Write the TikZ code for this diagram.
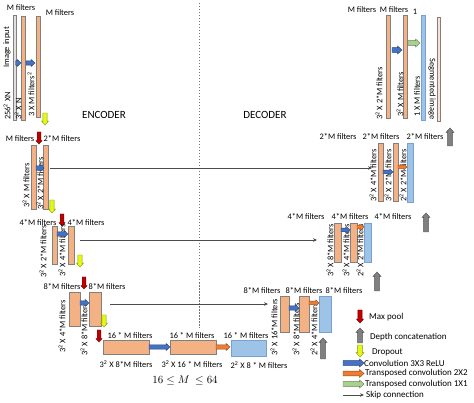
\documentclass[tikz,border=0pt]{standalone}
\usepackage{fontspec}
\setmainfont{Carlito}
\usetikzlibrary{arrows.meta}
\definecolor{barorange}{RGB}{244,177,131}
\definecolor{barblue}{RGB}{157,195,230}
\definecolor{barblueline}{RGB}{120,160,210}
\definecolor{bluearr}{RGB}{68,114,196}
\definecolor{orangearr}{RGB}{237,125,49}
\definecolor{greenarr}{RGB}{169,209,142}
\definecolor{redarr}{RGB}{192,0,0}
\definecolor{grayarr}{RGB}{128,128,128}
\definecolor{yellowarr}{RGB}{225,250,20}
\definecolor{segfill}{RGB}{238,230,222}
\definecolor{segline}{RGB}{150,120,110}
\newcommand{\BAR}[6]{\node[#2, minimum width={(#4-#3)*1pt}, minimum height={(#6-#5)*1pt}] (#1) at ({(#3+#4)/2},{(#5+#6)/2}) {};}
\newcommand{\ARRH}[5]{%
  \filldraw[fill=#1, draw=#1!60!black, line width=0.4pt]
   (#2,{#4-0.3*#5}) -- ({#3-0.55*#5},{#4-0.3*#5}) -- ({#3-0.55*#5},{#4-0.5*#5}) -- (#3,#4)
   -- ({#3-0.55*#5},{#4+0.5*#5}) -- ({#3-0.55*#5},{#4+0.3*#5}) -- (#2,{#4+0.3*#5}) -- cycle;}
\newcommand{\ARRV}[5]{%
  \pgfmathsetmacro\arrhd{0.55*#5*sign(#4-#3)}%
  \filldraw[fill=#1, draw=#1!60!black, line width=0.4pt]
   ({#2-0.3*#5},#3) -- ({#2-0.3*#5},{#4-(\arrhd)}) -- ({#2-0.5*#5},{#4-(\arrhd)}) -- (#2,#4)
   -- ({#2+0.5*#5},{#4-(\arrhd)}) -- ({#2+0.3*#5},{#4-(\arrhd)}) -- ({#2+0.3*#5},#3) -- cycle;}
\tikzset{
  barbase/.style={rectangle, inner sep=0pt, outer sep=0pt, line width=0.6pt},
  obar/.style={barbase, fill=barorange, draw=black!50},
  bbar/.style={barbase, fill=barblue, draw=barblueline},
  gbar/.style={barbase, fill=black!12, draw=black!50},
  segbar/.style={barbase, fill=segfill, draw=segline},
  lbl/.style={font=\fontsize{8.4}{9}\selectfont, inner sep=0pt, text=black},
  rlbl/.style={lbl, rotate=90, anchor=west},
  leg/.style={font=\fontsize{9}{10}\selectfont, inner sep=0pt, text=black, anchor=west},
  head/.style={font=\fontsize{11}{12}\selectfont, inner sep=0pt, text=black},
  skip/.style={draw=black!70, line width=0.5pt, -{Stealth[length=4pt,width=3.5pt]}}
}
\begin{document}
\begin{tikzpicture}[x=1pt,y=-1pt]
\useasboundingbox (0,0) rectangle (474,403);
% divider
\draw[black!55, line width=0.6pt, dash pattern=on 1.5pt off 1.5pt] (199,3) -- (199,328);
\node[head] (enc) at (104,115) {ENCODER};
\node[head] (dec) at (265,115) {DECODER};

% ---------- Encoder level 1
\BAR{in}{gbar}{13}{16}{15}{120}
\BAR{e1a}{obar}{21}{25}{16}{120}
\BAR{e1b}{obar}{36}{40}{16}{117}
\ARRH{bluearr}{15.5}{21}{63}{7}
\ARRH{bluearr}{26}{35}{63}{7}
\ARRV{yellowarr}{45}{113}{125}{7}
\node[lbl] (t11) at (21,8) {M filters};
\node[lbl] (t12) at (60,13) {M filters};
\node[rlbl] (r11) at (7,68) {Image input};
\node[rlbl] (r12) at (7,120) {256\textsuperscript{2} XN};
\node[rlbl] (r13) at (18,120) {3\textsuperscript{2} X N};
\node[rlbl] (r14) at (31,117) {3 X M filters\textsuperscript{2}};

% ---------- Encoder level 2
\ARRV{redarr}{39}{132}{144}{6}
\node[lbl] (t21) at (20,139) {M filters};
\node[lbl] (t22) at (62,139) {2*M filters};
\BAR{e2a}{obar}{31}{36}{145}{209}
\BAR{e2b}{obar}{43}{48}{145}{209}
\node[rlbl] (r21) at (26,208) {3\textsuperscript{2} X M filters};
\node[rlbl] (r22) at (40,210) {3\textsuperscript{2} X 2*M filters};
\ARRH{bluearr}{36}{44}{168}{7}
\ARRV{yellowarr}{52}{200}{213}{7}

% ---------- Encoder level 3
\ARRV{redarr}{62}{214}{226}{6}
\node[lbl] (t31) at (38,223) {4*M filters};
\node[lbl] (t32) at (86,223) {4*M filters};
\BAR{e3a}{obar}{52}{57}{226}{264}
\BAR{e3b}{obar}{68}{74}{226}{264}
\node[rlbl] (r31) at (43,278) {3\textsuperscript{2} X 2*M filters};
\node[rlbl] (r32) at (62,277) {3\textsuperscript{2} X 4*M filters};
\ARRH{bluearr}{57}{68}{234}{7}
\ARRV{yellowarr}{80}{255}{267}{7}

% ---------- Encoder level 4
\ARRV{redarr}{84}{277}{289}{6}
\node[lbl] (t41) at (62,287) {8*M filters};
\node[lbl] (t42) at (107,287) {8*M filters};
\BAR{e4a}{obar}{69}{80}{292}{326}
\BAR{e4b}{obar}{89}{101}{292}{326}
\node[rlbl] (r41) at (62,353) {3\textsuperscript{2} X 4*M filters};
\node[rlbl] (r42) at (84,356) {3\textsuperscript{2} X 8*M filters};
\ARRH{bluearr}{80}{89}{303}{7}
\ARRV{yellowarr}{104}{315}{327}{7}

% ---------- Bottleneck
\ARRV{redarr}{99}{330}{342}{6}
\BAR{b1}{obar}{103}{149}{340}{354}
\BAR{b2}{obar}{170}{216}{340}{354}
\BAR{b3}{bbar}{231}{266}{340}{356}
\ARRH{bluearr}{149}{170}{347}{7}
\ARRH{orangearr}{216}{230}{347}{7}
\node[lbl] (t51) at (130,336) {16 * M filters};
\node[lbl] (t52) at (192,336) {16 * M filters};
\node[lbl] (t53) at (246,336) {16 * M filters};
\node[lbl] (u51) at (126,364) {3\textsuperscript{2} X 8*M filters};
\node[lbl] (u52) at (192,364) {3\textsuperscript{2} X 16 * M filters};
\node[lbl] (u53) at (259,365) {2\textsuperscript{2} X 8 * M filters};
\node[font=\fontsize{11}{12}\selectfont, inner sep=0pt] (mrange) at (185,381) {$16 \leq M \ \leq 64$};

% ---------- Decoder level 4
\node[lbl] (d41) at (262,291) {8*M filters};
\node[lbl] (d42) at (304,291) {8*M filters};
\node[lbl] (d43) at (344,291) {8*M filters};
\BAR{d4a}{obar}{280}{289}{296}{332}
\BAR{d4b}{obar}{299}{309}{296}{332}
\BAR{d4c}{bbar}{319}{331}{296}{332}
\node[rlbl] (q41) at (274,356) {3\textsuperscript{2} X 16*M filters};
\node[rlbl] (q42) at (296,356) {3\textsuperscript{2} X 8*M filters};
\node[rlbl] (q43) at (314,356) {2\textsuperscript{2} X 4*M filters};
\ARRH{bluearr}{289}{299}{308}{7}
\ARRH{orangearr}{309}{319}{303}{6}
\ARRV{grayarr}{323}{359}{338}{8}
\ARRV{grayarr}{377}{291}{272}{8}

% ---------- Decoder level 3
\node[lbl] (d31) at (306,217) {4*M filters};
\node[lbl] (d32) at (350,217) {4*M filters};
\node[lbl] (d33) at (393,217) {4*M filters};
\BAR{d3a}{obar}{334}{341}{223}{262}
\BAR{d3b}{obar}{350}{357}{223}{262}
\BAR{d3c}{bbar}{364}{371}{223}{262}
\node[rlbl] (q31) at (330,277) {3\textsuperscript{2} X 8*M filters};
\node[rlbl] (q32) at (346,277) {3\textsuperscript{2} X 4*M filters};
\node[rlbl] (q33) at (360,277) {2\textsuperscript{2} X 2*M filters};
\ARRH{bluearr}{341}{350}{230}{6}
\ARRH{orangearr}{357}{364}{227}{6}
\ARRV{grayarr}{426}{232}{213}{8}

% ---------- Decoder level 2
\node[lbl] (d21) at (338,137) {2*M filters};
\node[lbl] (d22) at (381,137) {2*M filters};
\node[lbl] (d23) at (425,137) {2*M filters};
\BAR{d2a}{obar}{378}{383}{143}{201}
\BAR{d2b}{obar}{393}{398}{143}{201}
\BAR{d2c}{bbar}{407}{413}{143}{202}
\node[rlbl] (q21) at (373,202) {3\textsuperscript{2} X 4*M filters};
\node[rlbl] (q22) at (388,202) {3\textsuperscript{2} X 2*M filters};
\node[rlbl] (q23) at (403,202) {2\textsuperscript{2} X 2*M filters};
\ARRH{bluearr}{383}{393}{172}{6}
\ARRH{orangearr}{398}{407}{167}{6}
\ARRV{grayarr}{450}{146}{128}{8}

% ---------- Decoder level 1
\node[lbl] (d11) at (362,10) {M filters};
\node[lbl] (d12) at (394,10) {M filters};
\node[lbl] (d13) at (415,12) {1};
\BAR{d1a}{obar}{386}{390}{15}{118}
\BAR{d1b}{obar}{403}{407}{15}{118}
\BAR{d1c}{bbar}{421}{425}{15}{120}
\BAR{seg}{segbar}{437}{440}{17}{121}
\node[rlbl] (q11) at (379,120) {3\textsuperscript{2} X 2*M filters};
\node[rlbl] (q12) at (400,117) {3\textsuperscript{2} X M filters};
\node[rlbl] (q13) at (417,117) {1 X M filters};
\node[lbl, rotate=-90, anchor=west] (q14) at (432,58) {Segmented image};
\ARRH{bluearr}{392}{402}{50}{8}
\ARRH{greenarr}{408}{420}{43}{8}

% ---------- Skip connections
\coordinate (s2) at (50,168);
\coordinate (k2) at (372,168);
\coordinate (s3) at (80,240);
\coordinate (k3) at (317,240);
\coordinate (s4) at (110,304);
\coordinate (k4) at (268,304);
\draw[skip] (s2) -- (k2);
\draw[skip] (s3) -- (k3);
\draw[skip] (s4) -- (k4);

% ---------- Legend
\ARRV{redarr}{360}{310}{323}{7}
\node[leg] (l1) at (369,317) {Max pool};
\ARRV{grayarr}{360}{343}{328}{8}
\node[leg] (l2) at (370,337) {Depth concatenation};
\ARRV{yellowarr}{360}{345}{357}{8}
\node[leg] (l3) at (372,352) {Dropout};
\ARRH{bluearr}{343}{364}{363}{8}
\node[leg] (l4) at (364,363) {Convolution 3X3 ReLU};
\ARRH{orangearr}{343}{364}{373.5}{8}
\node[leg] (l5) at (365,373.5) {Transposed convolution 2X2};
\ARRH{greenarr}{343}{364}{384}{8}
\node[leg] (l6) at (365,384) {Transposed convolution 1X1};
\coordinate (ls) at (343,395);
\coordinate (le) at (364,395);
\draw[skip] (ls) -- (le);
\node[leg] (l7) at (366,395) {Skip connection};
\end{tikzpicture}
\end{document}
